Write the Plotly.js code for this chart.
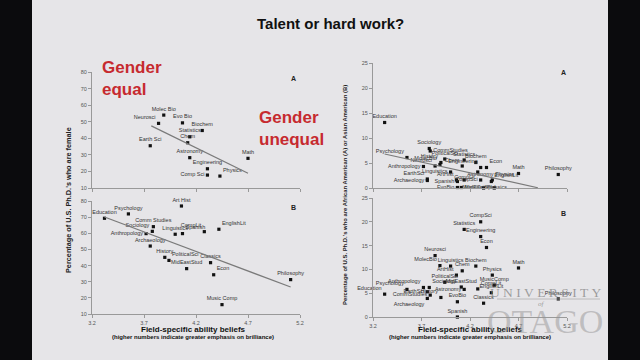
<!DOCTYPE html>
<html><head><meta charset="utf-8">
<script src="https://cdn.plot.ly/plotly-3.0.1.min.js"></script>
<style>html,body{margin:0;padding:0;background:#e6e5e8;}#c{width:640px;height:360px;}</style>
</head><body><div id="c"></div>
<script>
// ---- Data: female % (left) ----
const fieldsLeftA = ["Molec Bio","Neurosci","Evo Bio","Biochem","Statistics","Chem","Earth Sci","Astronomy","Math","Engineering","Comp Sci","Physics"];
const xLeftA = [3.89,3.84,4.07,4.26,4.14,4.12,3.76,4.14,4.70,4.31,4.31,4.43];
const yLeftA = [54,49,49.3,44.7,40.9,37.3,35.5,28.3,27.9,21.6,17.8,17.2];
const trendAx = [3.77,4.70];
const trendAy = [47.5,18.9];

const fieldsLeftB = ["Art Hist","Psychology","Education","Comm Studies","Sociology","Anthropology","Linguistics","Spanish","CompLit","EnglishLit","Archaeology","History","PoliticalSci","MidEastStud","Classics","Econ","Philosophy","Music Comp"];
const xLeftB = [4.06,3.55,3.32,3.79,3.78,3.72,4.00,4.07,4.28,4.42,3.76,3.90,3.94,4.11,4.34,4.37,5.11,4.45];
const yLeftB = [76.9,72,69.3,64.1,61.2,59.8,59.4,59.8,61,62.5,52.1,45.1,43.2,38.1,41.8,34.3,31.3,15.8];
const trendBx = [3.32,5.11];
const trendBy = [70.1,26.7];

// ---- Data: African American (A) / Asian American (B) % (right) ----
const fieldsRight = ["Education","Psychology","Sociology","CommStudies","Anthropology","Archaeology","EarthSci","Neurosci","MolecBio","History","PoliticalSci","Linguistics","ArtHist","Spanish","EvoBio","MidEastStud","Chem","Statistics","Astronomy","Biochem","CompLit","Engineering","CompSci","Classics","Econ","EnglishLit","Physics","MusicComp","Math","Philosophy"];
const xRight = [3.32,3.55,3.78,3.79,3.72,3.76,3.76,3.84,3.89,3.90,3.94,4.00,4.06,4.07,4.07,4.11,4.12,4.14,4.14,4.26,4.28,4.31,4.31,4.34,4.37,4.42,4.43,4.45,4.70,5.11];
const yRightA = [13.1,6.1,7.9,7.4,4.3,1.5,1.8,4.4,4.7,5.1,5.8,3.2,1.6,1.3,0.1,0.1,4.4,5.6,1.6,5.1,3.2,4.1,1.6,0,4.1,1.3,1.6,0,2.9,2.7];
const yRightB = [4.8,5.8,6.2,4.6,6.2,3.9,5.3,12.9,10.8,4.1,7.3,10.7,8.8,0,3.2,6.3,9.7,18.4,5.8,10.7,5.9,16.9,20.0,2.9,14.6,5.1,8.8,6.7,10.3,3.8];
const trendRAx = [3.32,4.90];
const trendRAy = [6.8,0.05];

const tickVals = [3.2,3.7,4.2,4.7,5.2];
const tickText = ["3.2","3.7","4.2","4.7","5.2"];

// label placement overrides (style only)
const posLA = {"Neurosci":"top left","Comp Sci":"middle left","Physics":"top right"};
const posLB = {"Anthropology":"middle left","Sociology":"top left","Spanish":"top right","CompLit":"top left","EnglishLit":"top right","PoliticalSci":"top right","Econ":"top right"};
const posRA = {"Psychology":"top left","CommStudies":"middle right","Anthropology":"middle left","EarthSci":"top left","Archaeology":"middle left","ArtHist":"top left","Spanish":"middle left","EvoBio":"middle left","MidEastStud":"middle right","Neurosci":"top left","MolecBio":"top left","History":"top left","Chem":"top left","CompLit":"bottom left","Linguistics":"middle left","Astronomy":"top right","EnglishLit":"top right","Physics":"top right","Classics":"middle right","MusicComp":"middle left","Engineering":"top left","Econ":"top right","CompSci":"middle left"};
const posRB = {"MolecBio":"top left","ArtHist":"top left","Anthropology":"top left","Psychology":"top left","Education":"top left","Sociology":"top right","CompLit":"top right","EarthSci":"middle left","CommStudies":"middle left","Archaeology":"bottom left","History":"top left","Astronomy":"middle left"};

const FONT = "Liberation Sans, Arial, sans-serif";
function pts(names, xs, ys, xa, ya, posMap){
  return {type:"scatter", mode:"markers+text", x:xs, y:ys, text:names, xaxis:xa, yaxis:ya,
    textposition: names.map(n => posMap[n] || "top center"),
    textfont:{family:FONT, size:5.5, color:"#333"},
    marker:{symbol:"square", size:3.2, color:"#111"}, cliponaxis:false, hoverinfo:"skip", showlegend:false};
}
function line(xs, ys, xa, ya){
  return {type:"scatter", mode:"lines", x:xs, y:ys, xaxis:xa, yaxis:ya,
    line:{color:"#7a7a7a", width:1.2}, hoverinfo:"skip", showlegend:false};
}
const traces = [
  pts(fieldsLeftA, xLeftA, yLeftA, "x", "y", posLA), line(trendAx, trendAy, "x", "y"),
  pts(fieldsLeftB, xLeftB, yLeftB, "x2", "y2", posLB), line(trendBx, trendBy, "x2", "y2"),
  pts(fieldsRight, xRight, yRightA, "x3", "y3", posRA), line(trendRAx, trendRAy, "x3", "y3"),
  pts(fieldsRight, xRight, yRightB, "x4", "y4", posRB)
];

const W = 640, H = 360;
const px = v => v / W, py = v => 1 - v / H;
const ax = {showline:true, linecolor:"#999", linewidth:1, ticks:"outside", ticklen:3, tickcolor:"#999",
  tickfont:{family:FONT, size:5.5, color:"#555"}, showgrid:false, zeroline:false, fixedrange:true};
function xa(dom, anchor, labels){ return Object.assign({}, ax, {domain:dom, anchor:anchor, range:[3.2,5.2], tickvals:tickVals, ticktext:tickText, showticklabels:labels}); }
function ya(dom, anchor, range, dt){ return Object.assign({}, ax, {domain:dom, anchor:anchor, range:range, dtick:dt, tick0:0}); }
function note(x, y, text, font, extra){
  return Object.assign({xref:"paper", yref:"paper", x:px(x), y:py(y), xanchor:"center", yanchor:"middle", text:text, showarrow:false, font:font}, extra || {});
}
const grey = c => ({family:"Liberation Serif, serif", size:c[0], color:c[1]});

const layout = {
  width:W, height:H, margin:{l:0,r:0,t:0,b:0}, paper_bgcolor:"#e6e5e8", plot_bgcolor:"rgba(0,0,0,0)",
  xaxis: xa([px(92),px(300)], "y", false),
  yaxis: ya([py(188),py(72)], "x", [10,80], 10),
  xaxis2: xa([px(92),px(300)], "y2", true),
  yaxis2: ya([py(314),py(201)], "x2", [10,80], 10),
  xaxis3: xa([px(373),px(567)], "y3", false),
  yaxis3: ya([py(188),py(63)], "x3", [0,25], 5),
  xaxis4: xa([px(373),px(567)], "y4", true),
  yaxis4: ya([py(317),py(198)], "x4", [0,25], 5),
  shapes:[
    {type:"rect", xref:"paper", yref:"paper", x0:0, x1:px(32), y0:0, y1:1, fillcolor:"#0b0b0d", line:{width:0}},
    {type:"rect", xref:"paper", yref:"paper", x0:px(608), x1:1, y0:0, y1:1, fillcolor:"#0b0b0d", line:{width:0}},
    {type:"line", xref:"paper", yref:"paper", x0:px(497), x1:px(600), y0:py(299), y1:py(299), line:{color:"#b0b0b0", width:0.8}}
  ],
  annotations:[
    note(330, 24, "<b>Talent or hard work?</b>", {family:FONT, size:15, color:"#111"}),
    note(100, 78, "<b>Gender<br>equal</b>", {family:FONT, size:17, color:"#c62a2f"}, {xanchor:"left", align:"left"}),
    note(257, 128, "<b>Gender<br>unequal</b>", {family:FONT, size:17, color:"#c62a2f"}, {xanchor:"left", align:"left"}),
    note(293, 78, "<b>A</b>", {family:FONT, size:7, color:"#222"}),
    note(293, 208, "<b>B</b>", {family:FONT, size:7, color:"#222"}),
    note(563, 73, "<b>A</b>", {family:FONT, size:7, color:"#222"}),
    note(563, 213, "<b>B</b>", {family:FONT, size:7, color:"#222"}),
    note(68, 200, "<b>Percentage of U.S. Ph.D.'s who are female</b>", {family:FONT, size:7.3, color:"#222"}, {textangle:-90}),
    note(345, 195, "<b>Percentage of U.S. Ph.D.'s who are African American (A) or Asian American (B)</b>", {family:FONT, size:5.9, color:"#222"}, {textangle:-90}),
    note(193, 329, "<b>Field-specific ability beliefs</b>", {family:FONT, size:8, color:"#111"}),
    note(193, 337, "<b>(higher numbers indicate greater emphasis on brilliance)</b>", {family:FONT, size:6, color:"#111"}),
    note(470, 329, "<b>Field-specific ability beliefs</b>", {family:FONT, size:8, color:"#111"}),
    note(470, 337, "<b>(higher numbers indicate greater emphasis on brilliance)</b>", {family:FONT, size:6, color:"#111"}),
    note(546, 292, "U\u00a0N\u00a0I\u00a0V\u00a0E\u00a0R\u00a0S\u00a0I\u00a0T\u00a0Y", grey([13.5, "rgba(130,130,130,0.75)"])),
    note(541, 304, "<i>of</i>", grey([7, "rgba(130,130,130,0.75)"])),
    note(545, 321, "OTAGO", grey([34, "rgba(150,150,150,0.5)"]))
  ]
};
Plotly.newPlot("c", traces, layout, {staticPlot:true, displayModeBar:false});
</script></body></html>
